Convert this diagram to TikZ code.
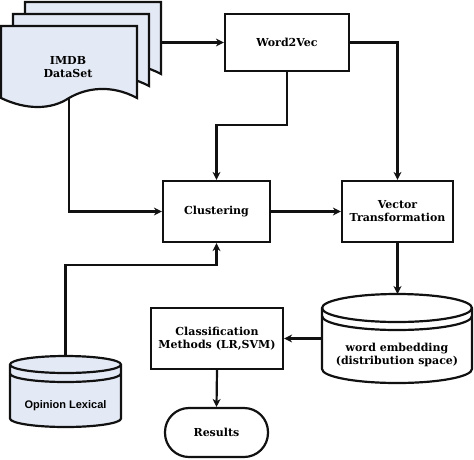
\documentclass[tikz,border=0pt]{standalone}
\usepackage{fontspec}
\setmainfont{DejaVu Serif}
\newfontfamily\olfont{Liberation Sans}
\usetikzlibrary{arrows.meta}
\definecolor{docfill}{RGB}{228,234,245}
\definecolor{ink}{RGB}{17,17,17}
\begin{document}
\begin{tikzpicture}[x=1pt,y=-1pt,
  shapeline/.style={draw=ink,line width=2.2pt,line join=miter},
  arr/.style={draw=ink,line width=2.2pt,-{Stealth[length=8pt,width=8pt,inset=2.5pt]}},
  boxnode/.style={shapeline,rectangle,align=center,font=\bfseries\fontsize{11}{13}\selectfont,inner sep=0pt},
  txt/.style={align=center,font=\bfseries\fontsize{11}{13.5}\selectfont,inner sep=0pt},
  docpic/.pic={\draw[shapeline,fill=docfill] (0,0) -- (136,0) -- (136,72)
     .. controls (110,58) and (85,62) .. (68,72)
     .. controls (50,84) and (25,84) .. (0,72) -- cycle;}
]
\useasboundingbox (0,0) rectangle (474,459);

% named nodes
\node[boxnode,minimum width=124pt,minimum height=57pt] (w2v) at (287,42.5) {Word2Vec};
\node[boxnode,minimum width=107pt,minimum height=61pt] (clu) at (216.5,211.5) {Clustering};
\node[boxnode,minimum width=111pt,minimum height=61pt] (vt) at (397.5,211.5) {Vector\\Transformation};
\node[boxnode,minimum width=132pt,minimum height=61pt] (cls) at (217,338.5) {Classification\\Methods (LR,SVM)};
\node[boxnode,minimum width=103pt,minimum height=49pt,rounded corners=24pt] (res) at (216.5,432.5) {Results};

\coordinate (docback) at (161,42.5);
\coordinate (docbot) at (69,96);
\coordinate (oltop) at (65.5,358);
\coordinate (wetop) at (397.5,294);
\coordinate (weleft) at (322,338.5);

% connectors
\draw[arr] (docback) -- (w2v.west);
\draw[arr] (w2v.east) -| (vt.north);
\draw[arr] (w2v.south) -- ++(0,53) -| (clu.north);
\draw[arr] (docbot) |- (clu.west);
\draw[arr] (clu.east) -- (vt.west);
\draw[arr] (oltop) |- ([yshift=-22pt]clu.south) -- (clu.south);
\draw[arr] (vt.south) -- (wetop);
\draw[arr] (weleft) -- (cls.east);
\draw[arr] (cls.south) -- (res.north);

% documents
\pic at (25,2) {docpic};
\pic at (13,14) {docpic};
\pic at (1,26) {docpic};
\node[txt] (doc) at (68,67) {IMDB\\DataSet};

% opinion lexical cylinder
\draw[shapeline,fill=docfill] (10,364.5) -- (10,418.5) arc[start angle=180,end angle=360,x radius=55.5,y radius=-8.5] -- (121,364.5) arc[start angle=0,end angle=180,x radius=55.5,y radius=-8.5] -- cycle;
\draw[shapeline] (10,364.5) arc[start angle=180,end angle=360,x radius=55.5,y radius=-8.5];
\draw[shapeline] (10,373.5) arc[start angle=180,end angle=360,x radius=55.5,y radius=-8.5];
\node[inner sep=0pt,font=\olfont\bfseries\fontsize{11}{13}\selectfont] (ol) at (65.5,406) {Opinion Lexical};

% word embedding cylinder
\draw[shapeline,fill=white] (322,308) -- (322,369) arc[start angle=180,end angle=360,x radius=75,y radius=-14] -- (472,308) arc[start angle=0,end angle=180,x radius=75,y radius=-14] -- cycle;
\draw[shapeline] (322,308) arc[start angle=180,end angle=360,x radius=75,y radius=-14];
\draw[shapeline] (322,316) arc[start angle=180,end angle=360,x radius=75,y radius=-14];
\node[txt] (we) at (397,355) {word embedding\\(distribution space)};
\end{tikzpicture}
\end{document}
